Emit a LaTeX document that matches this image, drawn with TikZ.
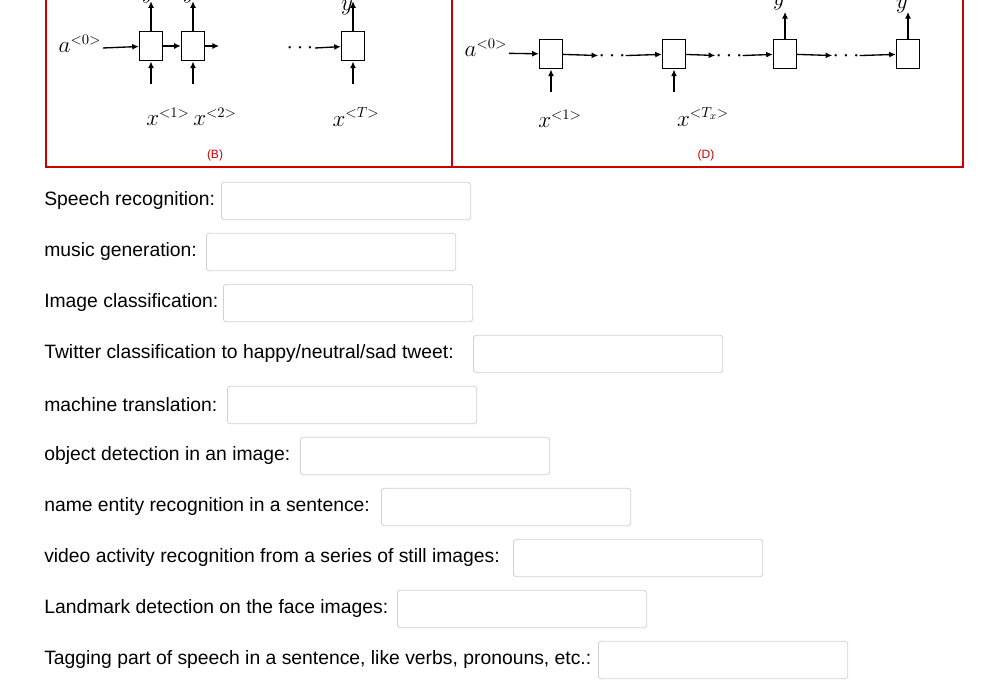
\documentclass[tikz,border=0pt]{standalone}
\usepackage{fontspec}
\setmainfont{Liberation Sans}
\usetikzlibrary{arrows.meta}
\begin{document}
\begin{tikzpicture}[x=0.75pt,y=-0.75pt,
  cell/.style={draw,line width=1.2pt,minimum width=17pt,minimum height=22pt,inner sep=0pt},
  arr/.style={-{Latex[length=5pt,width=4.5pt]},line width=1pt},
  ml/.style={inner sep=1pt,font=\fontsize{16}{18}\selectfont},
  lab/.style={anchor=west,inner sep=0pt,font=\fontsize{14.5}{16}\selectfont},
  field/.style={draw=black!18,rounded corners=2pt,line width=0.6pt,anchor=west,minimum height=28pt,minimum width=187pt,inner sep=0pt}]
\useasboundingbox (0,0) rectangle (993,691);
\begin{scope}
\clip (0,0) rectangle (993,691);
\draw[red!80!black,line width=1.5pt] (46,-10) rectangle (963,167);
\draw[red!80!black,line width=1.5pt] (452,-10) -- (452,167);
% panel B
\node[ml] (a0b) at (80,44) {$a^{<0>}$};
\node[cell] (b1) at (151,46) {};
\node[cell] (b2) at (193,46) {};
\node[cell] (b3) at (353,46) {};
\node[ml] (dotsb) at (300,48) {$\cdots$};
\draw[arr] ([yshift=-3pt]a0b.east) -- (b1);
\draw[arr] (b1) -- (b2);
\draw[arr] (b2.east) -- ++(14,0) coordinate (e1);
\draw[arr] (dotsb.east) -- (b3);
\foreach \b in {b1,b2,b3}{
  \coordinate (t\b) at ([yshift=22pt]\b.north);
  \draw[arr] (\b.north) -- (t\b);
  \coordinate (s\b) at ([yshift=-17pt]\b.south);
  \draw[arr] (s\b) -- (\b.south);
}
\node[ml] (xb1) at (168,117) {$x^{<1>}$};
\node[ml] (xb2) at (215,117) {$x^{<2>}$};
\node[ml] (xb3) at (356,117) {$x^{<T>}$};
\node[ml] at (148,-4) {$y$};
\node[ml] at (189,-4) {$y$};
\node[ml] at (347,8) {$y$};
\node[inner sep=0pt,text=red!80!black,font=\fontsize{9}{10}\selectfont] (B) at (215,155) {(B)};
% panel D
\node[ml] (a0d) at (486,48) {$a^{<0>}$};
\node[cell] (d1) at (551,54) {};
\node[cell] (d2) at (674,54) {};
\node[cell] (d3) at (785,54) {};
\node[cell] (d4) at (908,54) {};
\draw[arr] ([yshift=-4pt]a0d.east) -- (d1);
\foreach \p/\q/\m in {d1/d2/612,d2/d3/729,d3/d4/846}{
  \node[ml,inner sep=0pt] (dt\p) at (\m,56) {$\cdots$};
  \draw[arr] (\p) -- (dt\p);
  \draw[arr] (dt\p) -- (\q);
}
\foreach \b in {d1,d2}{
  \coordinate (s\b) at ([yshift=-17pt]\b.south);
  \draw[arr] (s\b) -- (\b.south);
}
\foreach \b in {d3,d4}{
  \coordinate (t\b) at ([yshift=20pt]\b.north);
  \draw[arr] (\b.north) -- (t\b);
}
\node[ml] at (779,3) {$y$};
\node[ml] at (902,6) {$y$};
\node[ml] (xd1) at (560,119) {$x^{<1>}$};
\node[ml] (xd2) at (703,117) {$x^{<T_x>}$};
\node[inner sep=0pt,text=red!80!black,font=\fontsize{9}{10}\selectfont] (D) at (706,155) {(D)};
\end{scope}
% form
\foreach \i/\t/\fx in {0/Speech recognition:/221,1/music generation:/206,2/Image classification:/223,
  3/Twitter classification to happy\slash neutral\slash sad tweet:/473,4/machine translation:/227,
  5/object detection in an image:/300,6/name entity recognition in a sentence:/381,
  7/video activity recognition from a series of still images:/513,8/Landmark detection on the face images:/397,
  9/{Tagging part of speech in a sentence, like verbs, pronouns, etc.:}/598}{
  \node[lab] (l\i) at (44,201+51*\i) {\t};
  \node[field] (f\i) at (\fx,201+51*\i) {};
}
\end{tikzpicture}
\end{document}
